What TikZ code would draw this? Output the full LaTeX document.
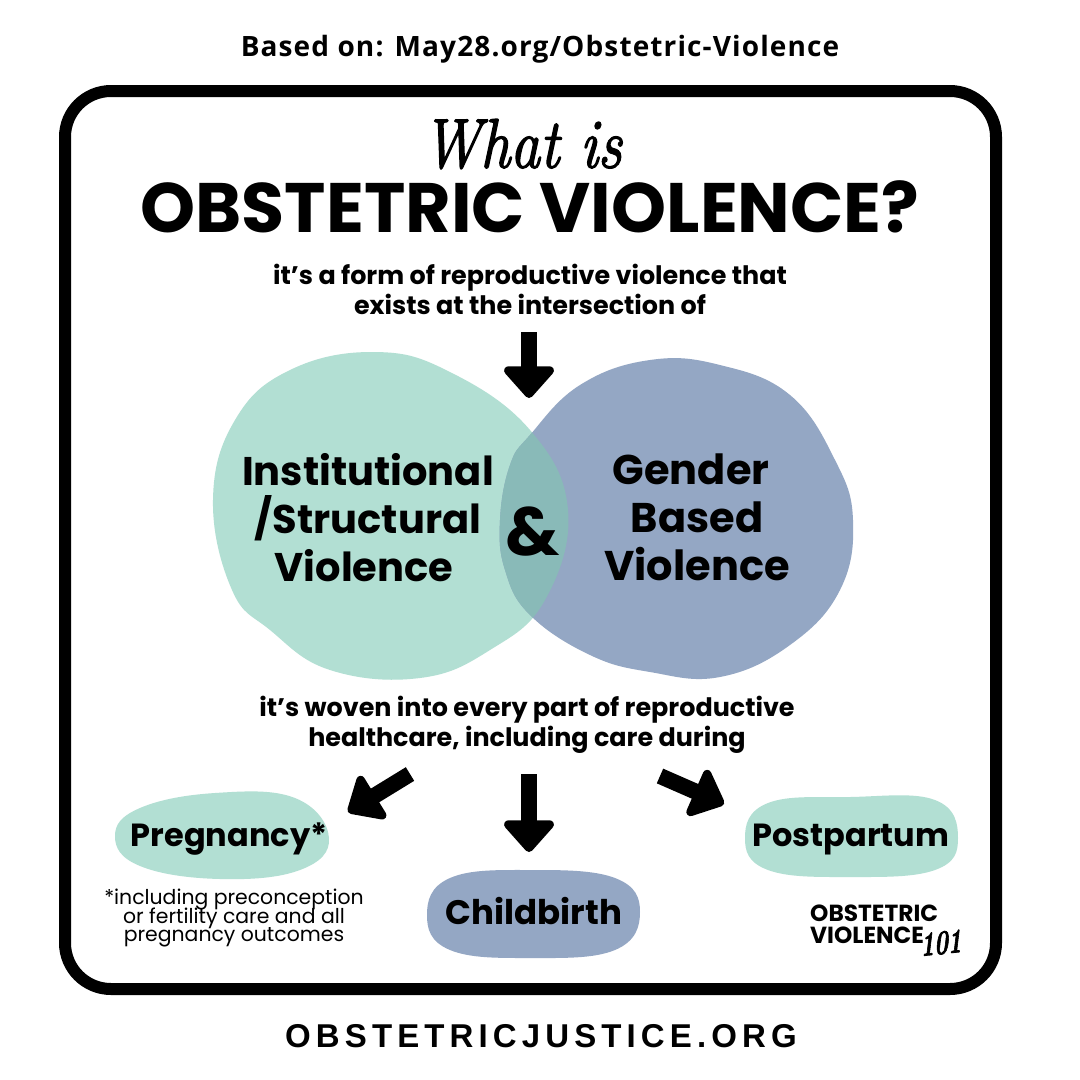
\documentclass[tikz,border=0pt]{standalone}
\usepackage{fontspec}
\newfontfamily\popfont{Poppins}
\newfontfamily\topfont[LetterSpace=4]{Open Sans}
\newfontfamily\urlfont[LetterSpace=15.5]{Liberation Sans}
\newfontfamily\whatfont[FakeBold=2.2]{Latin Modern Roman}
\newfontfamily\numfont[FakeBold=2.5]{Latin Modern Roman}
\usetikzlibrary{arrows.meta,positioning}
\definecolor{mintblob}{HTML}{B2DFD3}
\definecolor{slateblob}{HTML}{94A7C4}
\definecolor{overlapblob}{HTML}{89BAB8}
\tikzset{
  headtext/.style={font=\popfont\bfseries\fontsize{25.4}{30}\selectfont, align=center, inner sep=0pt},
  venntext/.style={font=\popfont\bfseries\fontsize{#1}{48}\selectfont, align=center, inner sep=0pt},
  pilltext/.style={font=\popfont\bfseries\fontsize{#1}{36}\selectfont, inner sep=0pt},
  blockarrow/.style={line width=16pt, -{Triangle[round, width=58pt, length=34pt]}},
}
\begin{document}
\begin{tikzpicture}[x=1pt, y=-1pt, >=Latex, line join=round]
  \useasboundingbox (0,0) rectangle (1080,1080);
  \fill[white] (0,0) rectangle (1080,1080);
  \node[inner sep=0pt, font=\topfont\bfseries\fontsize{28}{30}\selectfont] (basedon) at (540,49) {Based on: May28.org/Obstetric-Violence};
  \draw[line width=12pt, rounded corners=46pt] (65,91) rectangle (996,989);
  \node[inner sep=0pt, xscale=0.85, transform shape, font=\whatfont\itshape\fontsize{70}{72}\selectfont] (whatis) at (522,144) {What is};
  \node[inner sep=0pt, font=\popfont\bfseries\fontsize{70}{74}\selectfont] (title) at (530,207) {OBSTETRIC VIOLENCE?};
  \node[headtext] (intro) at (530,289) {it’s a form of reproductive violence that\\exists at the intersection of};

  \def\mintpath{plot[smooth cycle, tension=0.7] coordinates {(375,352) (450,372) (530,430) (568,510) (545,600) (490,650) (420,678) (330,670) (270,630) (232,590) (213,500) (235,420) (290,370)}}
  \def\slatepath{plot[smooth cycle, tension=0.7] coordinates {(530,435) (580,385) (650,360) (720,365) (790,395) (835,460) (853,520) (840,590) (790,645) (720,677) (650,672) (590,655) (530,615) (505,570) (500,520) (510,465)}}
  \fill[mintblob] \mintpath;
  \fill[slateblob] \slatepath;
  \begin{scope}
    \clip \mintpath;
    \fill[overlapblob] \slatepath;
  \end{scope}
  \node[venntext=40] (institutional) at (368,518) {Institutional\\/Structural\hspace*{30pt}\\Violence\hspace*{8pt}};
  \node[venntext=41.5] (gender) at (697,517) {Gender\hspace*{12pt}\\Based\hspace*{12pt}\\Violence};
  \node[inner sep=0pt, font=\popfont\bfseries\fontsize{68}{70}\selectfont] (amp) at (533,532) {\&};
  \coordinate (introtail) at (529,332);
  \coordinate (introhead) at (529,398);
  \draw[blockarrow] (introtail) -- (introhead);

  \node[headtext] (woven) at (527,725) {it’s woven into every part of reproductive\\healthcare, including care during};

  \fill[mintblob] plot[smooth cycle, tension=0.7] coordinates {(115,836) (140,808) (215,793) (295,798) (329,838) (300,870) (220,879) (140,866)};
  \fill[slateblob] plot[smooth cycle, tension=0.7] coordinates {(427,915) (450,878) (530,870) (615,878) (640,912) (615,950) (530,958) (450,950)};
  \fill[mintblob] plot[smooth cycle, tension=0.7] coordinates {(745,838) (768,803) (850,797) (935,800) (958,838) (935,870) (850,877) (768,870)};
  \node[pilltext=32] (pregnancy) at (229,839) {Pregnancy*};
  \node[pilltext=34] (childbirth) at (534,911) {Childbirth};
  \node[pilltext=32] (postpartum) at (851,840) {Postpartum};

  \coordinate (lefttail) at (410,774);
  \coordinate (midtail) at (529,774);
  \coordinate (righttail) at (660,776);
  \coordinate (lefthead) at (348,812);
  \coordinate (midhead) at (529,852);
  \coordinate (righthead) at (724,804);
  \draw[blockarrow] (lefttail) -- (lefthead);
  \draw[blockarrow] (midtail) -- (midhead);
  \draw[blockarrow] (righttail) -- (righthead);

  \node[inner sep=0pt, align=center, font=\popfont\fontsize{20.4}{18}\selectfont] (footnote) at (234,918) {*including preconception\\[-3pt]or fertility care and all\\[-3pt]pregnancy outcomes};
  \node[inner sep=0pt, align=left, anchor=north west, font=\popfont\bfseries\fontsize{23.3}{23}\selectfont] (logo) at (810,905) {OBSTETRIC\\[-1pt]VIOLENCE};
  \node[inner sep=0pt, xscale=0.68, rotate=4, transform shape, font=\numfont\bfseries\itshape\fontsize{34}{36}\selectfont] (logonum) at (941,943) {101};
  \node[inner sep=0pt, font=\urlfont\bfseries\fontsize{33}{36}\selectfont] (url) at (541,1036) {OBSTETRICJUSTICE.ORG};
\end{tikzpicture}
\end{document}
